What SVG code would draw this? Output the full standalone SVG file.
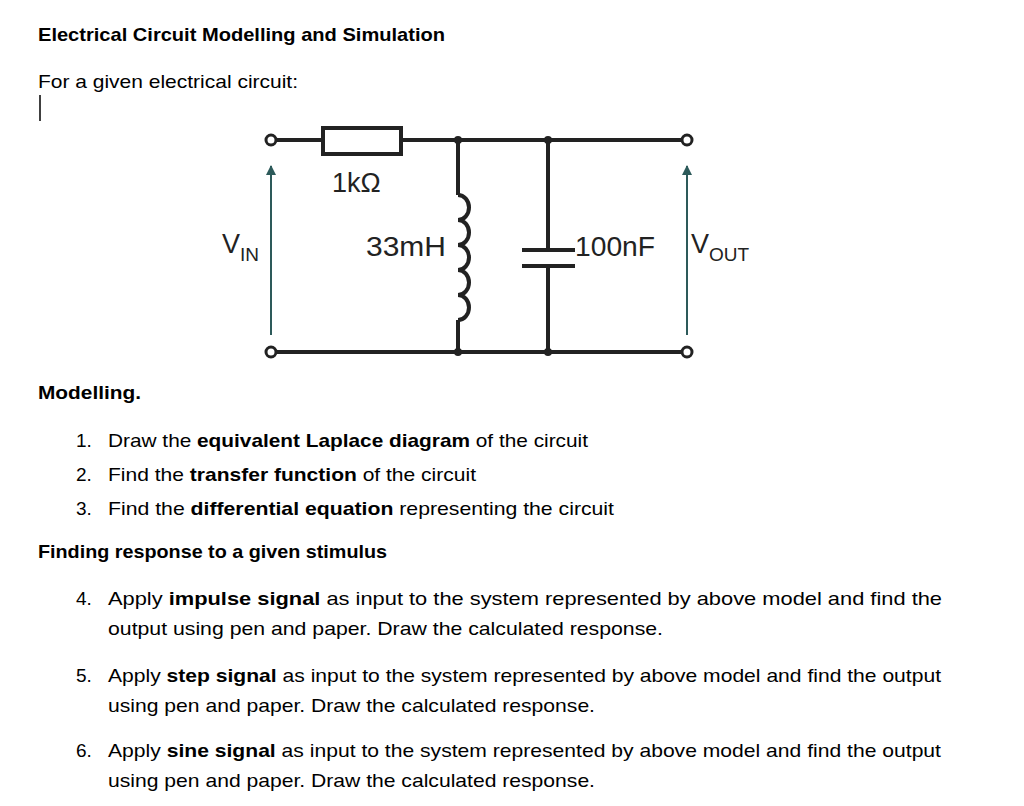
<svg xmlns="http://www.w3.org/2000/svg" width="1024" height="806" viewBox="0 0 1024 806">
<defs>
<style>
.t{font-family:"Liberation Sans",Arial,sans-serif;font-size:19px;fill:#000}
.b{font-weight:bold}
.c{font-family:"Liberation Sans",Arial,sans-serif;font-size:27px;fill:#222}
.s{font-size:19px}
.w{stroke:#222;stroke-width:4;fill:none}
.ar{stroke:#2d5a5a;stroke-width:2;fill:none}
</style>
<marker id="ah" viewBox="0 0 10 10" refX="9" refY="5" markerWidth="5" markerHeight="5" orient="auto"><path d="M0,0L10,5L0,10z" fill="#2d5a5a"/></marker>
</defs>
<rect width="1024" height="806" fill="#fff"/>
<text class="t b" x="38" y="41" textLength="407" lengthAdjust="spacingAndGlyphs">Electrical Circuit Modelling and Simulation</text>
<text class="t" x="38" y="88" textLength="260" lengthAdjust="spacingAndGlyphs">For a given electrical circuit:</text>
<line x1="40" y1="95" x2="40" y2="121" stroke="#000" stroke-width="1.5"/>
<g id="circuit">
<g id="wires">
<path class="w" d="M276,140H323M401,140H682M276,352H682M458,140V195M458,320V352M548,140V250M548,266V352"/>
<path class="w" d="M458,195 a11,12.5 0 0 1 0,25 a11,12.5 0 0 1 0,25 a11,12.5 0 0 1 0,25 a11,12.5 0 0 1 0,25 a11,12.5 0 0 1 0,25"/>
</g>
<g id="resistor"><rect class="w" x="323" y="128" width="78" height="26"/></g>
<g id="capacitor"><path class="w" d="M522,250H575M522,266H575"/></g>
<g id="junctions" fill="#222"><circle cx="458" cy="140" r="4"/><circle cx="548" cy="140" r="4"/><circle cx="458" cy="352" r="4"/><circle cx="548" cy="352" r="4"/></g>
<g id="terminals" fill="#fff" stroke="#222" stroke-width="3"><circle cx="271" cy="140" r="5"/><circle cx="271" cy="352" r="5"/><circle cx="687" cy="140" r="5"/><circle cx="687" cy="352" r="5"/></g>
<g id="arrows"><line class="ar" x1="271" y1="335" x2="271" y2="166" marker-end="url(#ah)"/><line class="ar" x1="687" y1="335" x2="687" y2="166" marker-end="url(#ah)"/></g>
<text class="c" x="332" y="192">1kΩ</text>
<text class="c" x="366" y="256" textLength="80" lengthAdjust="spacingAndGlyphs">33mH</text>
<text class="c" x="575" y="256" textLength="80" lengthAdjust="spacingAndGlyphs">100nF</text>
<text class="c" x="222" y="253" fill="#2d5a5a">V<tspan class="s" dy="8">IN</tspan></text>
<text class="c" x="691" y="253" fill="#2d5a5a">V<tspan class="s" dy="8">OUT</tspan></text>
</g>
<text class="t b" x="38" y="399" textLength="103" lengthAdjust="spacingAndGlyphs">Modelling.</text>
<text class="t" x="76" y="447">1.</text>
<text class="t" x="108" y="447" textLength="480" lengthAdjust="spacingAndGlyphs">Draw the <tspan class="b">equivalent Laplace diagram</tspan> of the circuit</text>
<text class="t" x="76" y="481">2.</text>
<text class="t" x="108" y="481" textLength="368" lengthAdjust="spacingAndGlyphs">Find the <tspan class="b">transfer function</tspan> of the circuit</text>
<text class="t" x="76" y="515">3.</text>
<text class="t" x="108" y="515" textLength="506" lengthAdjust="spacingAndGlyphs">Find the <tspan class="b">differential equation</tspan> representing the circuit</text>
<text class="t b" x="38" y="558" textLength="349" lengthAdjust="spacingAndGlyphs">Finding response to a given stimulus</text>
<text class="t" x="76" y="605">4.</text>
<text class="t" x="108" y="605" textLength="834" lengthAdjust="spacingAndGlyphs">Apply <tspan class="b">impulse signal</tspan> as input to the system represented by above model and find the</text>
<text class="t" x="108" y="635" textLength="555" lengthAdjust="spacingAndGlyphs">output using pen and paper. Draw the calculated response.</text>
<text class="t" x="76" y="682">5.</text>
<text class="t" x="108" y="682" textLength="833" lengthAdjust="spacingAndGlyphs">Apply <tspan class="b">step signal</tspan> as input to the system represented by above model and find the output</text>
<text class="t" x="108" y="712" textLength="487" lengthAdjust="spacingAndGlyphs">using pen and paper. Draw the calculated response.</text>
<text class="t" x="76" y="757">6.</text>
<text class="t" x="108" y="757" textLength="833" lengthAdjust="spacingAndGlyphs">Apply <tspan class="b">sine signal</tspan> as input to the system represented by above model and find the output</text>
<text class="t" x="108" y="787" textLength="487" lengthAdjust="spacingAndGlyphs">using pen and paper. Draw the calculated response.</text>
</svg>
